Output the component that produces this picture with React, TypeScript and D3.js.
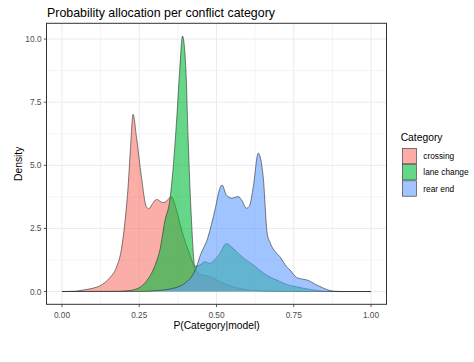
import React from "react";
import * as d3 from "d3";

const title = "Probability allocation per conflict category";
const categories = ["crossing", "lane change", "rear end"];
const colors = ["#F8766D", "#00BA38", "#619CFF"];
const xTicks = [0, 0.25, 0.5, 0.75, 1.0];
const xTickLabels = ["0.00", "0.25", "0.50", "0.75", "1.00"];
const yTicks = [0, 2.5, 5, 7.5, 10];
const yTickLabels = ["0.0", "2.5", "5.0", "7.5", "10.0"];

const crossingX = [0, 0.04, 0.068, 0.1, 0.122, 0.155, 0.176, 0.192, 0.205, 0.214, 0.222, 0.23, 0.241, 0.257, 0.273, 0.281, 0.293, 0.306, 0.317, 0.327, 0.34, 0.354, 0.37, 0.387, 0.414, 0.43, 0.446, 0.462, 0.478, 0.495, 0.511, 0.532, 0.554, 0.58, 0.608, 0.66, 0.72, 0.8, 1.0];
const crossingY = [0, 0.01, 0.06, 0.13, 0.22, 0.55, 0.95, 1.65, 2.9, 4.15, 5.74, 7.02, 6.13, 4.55, 3.36, 3.28, 3.48, 3.65, 3.58, 3.52, 3.6, 3.76, 3.25, 2.44, 1.45, 0.92, 0.68, 0.63, 0.59, 0.5, 0.39, 0.28, 0.19, 0.11, 0.06, 0.02, 0.005, 0, 0];

const laneX = [0, 0.18, 0.21, 0.23, 0.262, 0.284, 0.295, 0.306, 0.316, 0.333, 0.349, 0.36, 0.371, 0.381, 0.39, 0.401, 0.408, 0.419, 0.43, 0.446, 0.462, 0.478, 0.489, 0.51, 0.532, 0.55, 0.576, 0.619, 0.662, 0.705, 0.727, 0.759, 0.781, 0.835, 0.87, 1.0];
const laneY = [0, 0.01, 0.03, 0.06, 0.26, 0.6, 0.85, 1.2, 1.6, 2.8, 3.62, 4.94, 6.79, 8.78, 10.12, 8.78, 6.13, 2.83, 1.0, 1.05, 1.18, 1.12, 1.2, 1.5, 1.9, 1.75, 1.45, 1.05, 0.65, 0.4, 0.28, 0.19, 0.13, 0.03, 0, 0];

const rearX = [0, 0.25, 0.3, 0.35, 0.4, 0.425, 0.435, 0.446, 0.473, 0.495, 0.511, 0.518, 0.532, 0.55, 0.57, 0.581, 0.597, 0.607, 0.619, 0.635, 0.651, 0.664, 0.673, 0.695, 0.705, 0.727, 0.738, 0.759, 0.775, 0.792, 0.824, 0.845, 0.867, 0.9, 1.0];
const rearY = [0, 0, 0.03, 0.1, 0.35, 0.7, 0.96, 1.38, 2.17, 3.23, 4.09, 4.22, 3.82, 3.7, 3.76, 3.63, 3.3, 3.4, 4.15, 5.48, 4.55, 2.3, 1.95, 1.51, 1.38, 0.98, 0.85, 0.56, 0.5, 0.46, 0.26, 0.14, 0.04, 0, 0];

const seriesX = [crossingX, laneX, rearX];
const seriesY = [crossingY, laneY, rearY];

const W = 474;
const H = 362;
const panel = { left: 46.5, right: 386.5, top: 23.3, bottom: 304.3 };
const font = "'Liberation Sans', Arial, sans-serif";

export default function App() {
  const yMax = d3.max(seriesY.flat()) as number;
  const x = d3.scaleLinear().domain([-0.05, 1.05]).range([panel.left, panel.right]);
  const y = d3
    .scaleLinear()
    .domain([-0.05 * yMax, yMax * 1.05])
    .range([panel.bottom, panel.top]);

  const area = d3
    .area<[number, number]>()
    .x((d) => x(d[0]))
    .y0(y(0))
    .y1((d) => y(d[1]))
    .curve(d3.curveMonotoneX);
  const line = d3
    .line<[number, number]>()
    .x((d) => x(d[0]))
    .y((d) => y(d[1]))
    .curve(d3.curveMonotoneX);

  const xMinor = [0.125, 0.375, 0.625, 0.875];
  const yMinor = [1.25, 3.75, 6.25, 8.75];

  const legendX = 402;
  const legendTop = 148;
  const keyH = 16.2;

  return (
    <svg
      width={W}
      height={H}
      style={{ position: "absolute", left: 0, top: 0, background: "#fff" }}
      fontFamily={font}
    >
      <rect x={0} y={0} width={W} height={H} fill="#fff" />
      {/* grid */}
      {xMinor.map((v) => (
        <line key={"xm" + v} x1={x(v)} x2={x(v)} y1={panel.top} y2={panel.bottom} stroke="#EBEBEB" strokeWidth={0.5} />
      ))}
      {yMinor.map((v) => (
        <line key={"ym" + v} x1={panel.left} x2={panel.right} y1={y(v)} y2={y(v)} stroke="#EBEBEB" strokeWidth={0.5} />
      ))}
      {xTicks.map((v) => (
        <line key={"xg" + v} x1={x(v)} x2={x(v)} y1={panel.top} y2={panel.bottom} stroke="#EBEBEB" strokeWidth={1} />
      ))}
      {yTicks.map((v) => (
        <line key={"yg" + v} x1={panel.left} x2={panel.right} y1={y(v)} y2={y(v)} stroke="#EBEBEB" strokeWidth={1} />
      ))}
      {/* densities */}
      {seriesX.map((xs, i) => {
        const pts = xs.map((v, j) => [v, seriesY[i][j]] as [number, number]);
        return (
          <g key={categories[i]}>
            <path d={area(pts) || ""} fill={colors[i]} fillOpacity={0.6} stroke="none" />
            <path d={line(pts) || ""} fill="none" stroke="#2b2b2b" strokeWidth={0.6} />
          </g>
        );
      })}
      {/* panel border */}
      <rect
        x={panel.left}
        y={panel.top}
        width={panel.right - panel.left}
        height={panel.bottom - panel.top}
        fill="none"
        stroke="#333333"
        strokeWidth={1}
      />
      {/* axes ticks */}
      {xTicks.map((v, i) => (
        <g key={"xt" + v}>
          <line x1={x(v)} x2={x(v)} y1={panel.bottom} y2={panel.bottom + 2.7} stroke="#333" strokeWidth={0.8} />
          <text x={x(v)} y={317.5} textAnchor="middle" fontSize={8.3} fill="#4D4D4D">
            {xTickLabels[i]}
          </text>
        </g>
      ))}
      {yTicks.map((v, i) => (
        <g key={"yt" + v}>
          <line x1={panel.left - 2.7} x2={panel.left} y1={y(v)} y2={y(v)} stroke="#333" strokeWidth={0.8} />
          <text x={41.5} y={y(v) + 3} textAnchor="end" fontSize={8.3} fill="#4D4D4D">
            {yTickLabels[i]}
          </text>
        </g>
      ))}
      {/* axis titles */}
      <text x={(panel.left + panel.right) / 2} y={329} textAnchor="middle" fontSize={10.3} fill="#000">
        P(Category|model)
      </text>
      <text
        transform={`translate(22,${(panel.top + panel.bottom) / 2}) rotate(-90)`}
        textAnchor="middle"
        fontSize={10.3}
        fill="#000"
      >
        Density
      </text>
      {/* title */}
      <text x={47} y={17.3} fontSize={12.4} fill="#000">
        {title}
      </text>
      {/* legend */}
      <text x={400.7} y={141.3} fontSize={10.3} fill="#000">
        Category
      </text>
      {categories.map((c, i) => (
        <g key={"lg" + c}>
          <rect x={legendX} y={legendTop + i * keyH} width={14.8} height={keyH} fill="#fff" />
          <rect
            x={legendX + 0.4}
            y={legendTop + i * keyH + 0.4}
            width={14}
            height={keyH - 0.8}
            fill={colors[i]}
            fillOpacity={0.6}
            stroke="#2b2b2b"
            strokeWidth={0.6}
          />
          <text x={423.3} y={legendTop + i * keyH + keyH / 2 + 3} fontSize={8.3} fill="#000">
            {c}
          </text>
        </g>
      ))}
    </svg>
  );
}
